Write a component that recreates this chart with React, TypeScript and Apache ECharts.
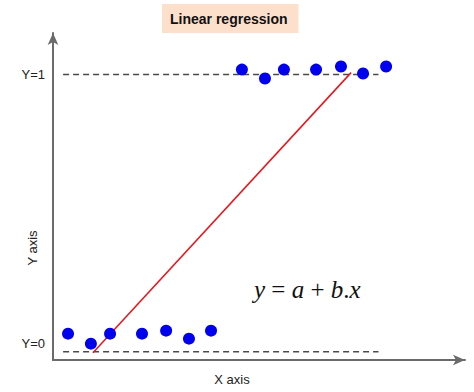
import React, { useEffect, useRef } from "react";
import * as echarts from "echarts";

// Lower group (class 0) and upper group (class 1) observations
const lowX = [0.73, 1.84, 2.77, 4.32, 5.49, 6.6, 7.67];
const lowY = [0.065, 0.029, 0.065, 0.065, 0.076, 0.047, 0.076];
const highX = [9.17, 10.29, 11.21, 12.77, 13.98, 15.05, 16.17];
const highY = [1.018, 0.986, 1.018, 1.018, 1.029, 1.004, 1.029];
// Fitted regression line endpoints
const fitX = [1.94, 14.47];
const fitY = [-0.004, 1.007];
// Reference levels
const levelValues = [0, 1];
const levelLabels = ["Y=0", "Y=1"];
const levelStartX = 0.49;
const levelEndX = 15.8;

export default function App() {
  const ref = useRef<HTMLDivElement>(null);
  useEffect(() => {
    if (!ref.current) return;
    const chart = echarts.init(ref.current, null, { renderer: "svg" });
    const font = "'Liberation Sans', Arial, sans-serif";
    const serif = "'Liberation Serif', 'Times New Roman', serif";
    const points = [
      ...lowX.map((x, i) => [x, lowY[i]]),
      ...highX.map((x, i) => [x, highY[i]]),
    ];
    const levelSeries = levelValues.map((v) => ({
      type: "line",
      data: [
        [levelStartX, v],
        [levelEndX, v],
      ],
      symbol: "none",
      silent: true,
      lineStyle: { color: "#4a4a4a", width: 1.5, type: [6, 4] },
      z: 1,
    }));
    chart.setOption({
      animation: false,
      backgroundColor: "#fff",
      title: {
        text: "Linear regression",
        left: 162,
        top: 4,
        backgroundColor: "#fde0cc",
        padding: [8, 11, 7, 8],
        textStyle: { fontFamily: font, fontSize: 14, fontWeight: "bold", color: "#111" },
      },
      grid: { left: 53, top: 33, width: 412, height: 327 },
      xAxis: {
        type: "value",
        min: 0,
        max: 20,
        axisLine: {
          onZero: false,
          lineStyle: { color: "#6b6b6b", width: 2 },
          symbol: ["none", "arrow"],
          symbolSize: [8, 12],
        },
        axisTick: { show: false },
        axisLabel: { show: false },
        splitLine: { show: false },
      },
      yAxis: {
        type: "value",
        min: -0.03,
        max: 1.15,
        axisLine: {
          show: true,
          onZero: false,
          lineStyle: { color: "#6b6b6b", width: 2 },
          symbol: ["none", "arrow"],
          symbolSize: [8, 12],
        },
        axisTick: { show: false },
        axisLabel: { show: false },
        splitLine: { show: false },
      },
      series: [
        ...levelSeries,
        {
          type: "line",
          data: fitX.map((x, i) => [x, fitY[i]]),
          symbol: "none",
          lineStyle: { color: "#e8141c", width: 1.5 },
          z: 2,
        },
        {
          type: "scatter",
          data: points,
          symbolSize: 12,
          itemStyle: { color: "#0000ee", opacity: 1 },
          z: 3,
        },
      ],
      graphic: [
        {
          type: "text",
          x: 45,
          y: 74,
          style: {
            text: levelLabels[1],
            font: `13px ${font}`,
            fill: "#222",
            align: "right",
            verticalAlign: "middle",
          },
        },
        {
          type: "text",
          x: 45,
          y: 343,
          style: {
            text: levelLabels[0],
            font: `13px ${font}`,
            fill: "#222",
            align: "right",
            verticalAlign: "middle",
          },
        },
        {
          type: "text",
          x: 32,
          y: 248,
          rotation: Math.PI / 2,
          style: {
            text: "Y axis",
            font: `13px ${font}`,
            fill: "#222",
            align: "center",
            verticalAlign: "middle",
          },
        },
        {
          type: "text",
          x: 232,
          y: 379,
          style: {
            text: "X axis",
            font: `13px ${font}`,
            fill: "#222",
            align: "center",
            verticalAlign: "middle",
          },
        },
        {
          type: "text",
          x: 254,
          y: 289,
          style: {
            text: "{i|y}{n| = }{i|a}{n| + }{i|b}{n|.}{i|x}",
            verticalAlign: "middle",
            rich: {
              i: { fontFamily: serif, fontStyle: "italic", fontSize: 25, fill: "#111" },
              n: { fontFamily: serif, fontSize: 25, fill: "#111" },
            },
          },
        },
      ],
    });
    return () => chart.dispose();
  }, []);
  return (
    <div
      ref={ref}
      style={{ position: "fixed", left: 0, top: 0, width: 474, height: 392 }}
    />
  );
}
